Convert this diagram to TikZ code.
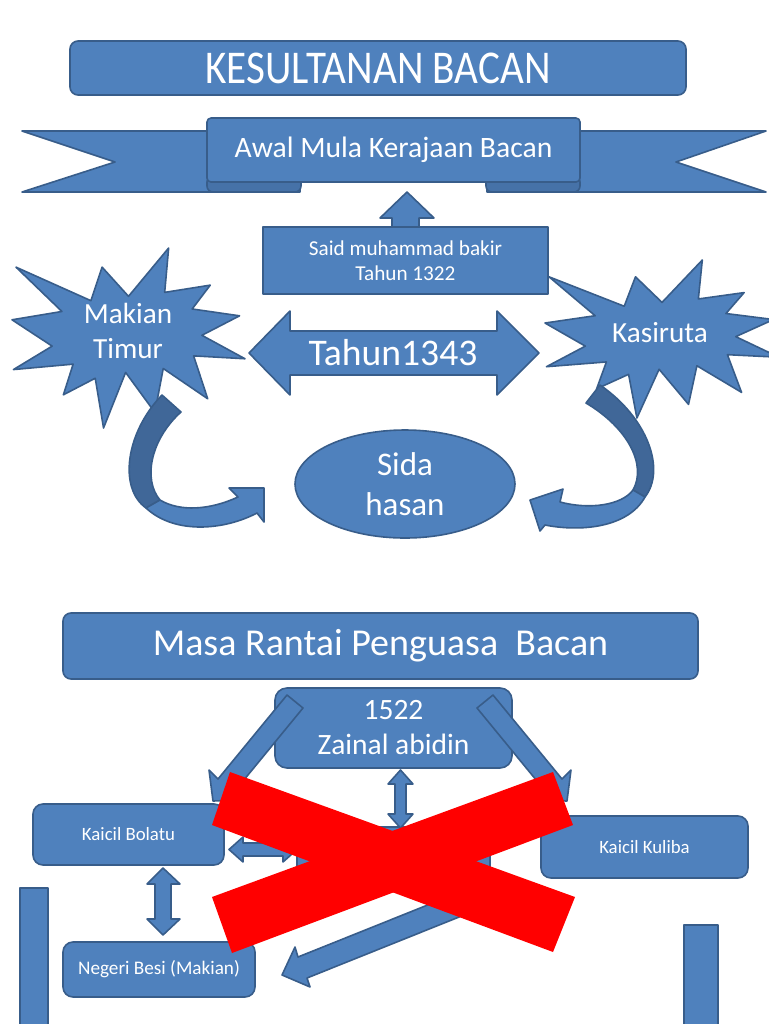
\documentclass[tikz,border=0pt]{standalone}
\usepackage{fontspec}
\setmainfont{Carlito}
\usetikzlibrary{shapes.geometric}
\definecolor{bacanblue}{RGB}{79,129,189}
\definecolor{bacanline}{RGB}{56,93,138}
\definecolor{bacandark}{RGB}{64,103,152}
\definecolor{bacanfold}{RGB}{70,114,168}
\tikzset{
  shp/.style={fill=bacanblue, draw=bacanline, line width=0.8pt, line join=round},
  box/.style={shp, text=white, align=center, inner sep=0pt},
  lbl/.style={text=white, align=center, inner sep=0pt},
}
\newcommand{\fs}[2]{\fontsize{#1}{#2}\selectfont}
% explosion shape, drawn in a 100 x 100 frame
\newcommand{\burst}[1]{\draw[shp,#1] (50,26.85) -- (67.23,0) -- (65.53,24.65) -- (85.09,20.63)
  -- (77.32,33.87) -- (97.67,37.67) -- (81.51,48.50) -- (100,61.53) -- (77.95,59.92)
  -- (84.00,83.77) -- (64.91,66.93) -- (61.33,91.37) -- (48.76,69.14) -- (39.28,100)
  -- (35.72,72.35) -- (22.05,81.56) -- (26.24,64.52) -- (0.63,67.53) -- (17.23,54.51)
  -- (0,39.88) -- (21.42,35.26) -- (1.71,10.63) -- (33.85,29.26) -- (38.67,10.63) -- cycle;}
\begin{document}
\begin{tikzpicture}[x=0.5pt,y=-0.5pt]
\useasboundingbox (0,0) rectangle (768,1024);
\node[box, rounded corners=4pt, minimum width=308pt, minimum height=27pt, font=\fs{23.5}{26}] (title) at (378,68) {\scalebox{0.875}[1]{KESULTANAN BACAN}};
% ribbon
\draw[shp] (215,131) -- (22,131) -- (115,162) -- (22,192) -- (300,192) -- (300,182) -- (215,182) -- cycle;
\draw[shp] (572,131) -- (766,131) -- (676,162) -- (766,192) -- (487,192) -- (487,182) -- (572,182) -- cycle;
\draw[shp, fill=bacanfold, rounded corners=3pt] (207,176) rectangle (301,192);
\draw[shp, fill=bacanfold, rounded corners=3pt] (486,176) rectangle (580,192);
\node[box, rounded corners=2pt, minimum width=186.5pt, minimum height=32pt, font=\fs{14.8}{18}] (awal) at (393.5,150) {Awal Mula Kerajaan Bacan};
% up arrow
\draw[shp] (392,227) -- (392,218) -- (380,218) -- (407,192) -- (434,218) -- (419,218) -- (419,227) -- cycle;
\node[box, minimum width=142.5pt, minimum height=33.5pt, font=\fs{10.6}{12.5}] (said) at (405.5,260.5) {Said muhammad bakir\\Tahun 1322};
% bursts
\burst{shift={(12,248)}, xscale=2.33, yscale=1.80}
\node[lbl, font=\fs{14.6}{17.5}] (makian) at (128,331) {Makian\\Timur};
\burst{shift={(545,260)}, xscale=2.34, yscale=1.58}
\node[lbl, font=\fs{14.6}{17.5}] (kasiruta) at (660,333) {Kasiruta};
% double arrow
\draw[shp] (249,353) -- (290,311) -- (290,331) -- (497,331) -- (497,311) -- (539,353)
  -- (497,395) -- (497,375) -- (290,375) -- (290,395) -- cycle;
\node[lbl, font=\fs{18.8}{22}] (tahun) at (393,353) {Tahun1343};
\node[box, ellipse, minimum width=110pt, minimum height=54pt, font=\fs{16.5}{20}] (sida) at (405,484) {Sida\\hasan};
% curved arrows
\draw[shp, fill=bacandark] (162,395) .. controls (126,432) and (118,488) .. (146,508) -- (160,500)
  .. controls (143,480) and (150,440) .. (181,412) -- cycle;
\draw[shp] (146,508) .. controls (175,535) and (225,530) .. (257,513) -- (264,522) -- (264,488)
  -- (229,488) -- (238,497) .. controls (210,510) and (180,512) .. (160,500) -- cycle;
\draw[shp, fill=bacandark] (600,385) .. controls (648,418) and (666,470) .. (645,497) -- (633,490)
  .. controls (647,465) and (628,428) .. (586,403) -- cycle;
\draw[shp] (645,497) .. controls (628,528) and (580,532) .. (545,525) -- (540,531) -- (530,500)
  -- (563,489) -- (560,502) .. controls (590,510) and (622,505) .. (633,490) -- cycle;
% second part
\node[box, rounded corners=4pt, minimum width=317.5pt, minimum height=33pt, font=\fs{19}{22}] (masa) at (380.5,646) {Masa Rantai Penguasa\ \ Bacan};
\node[box, rounded corners=6pt, minimum width=118.5pt, minimum height=40pt, font=\fs{14.75}{17.5}] (zainal) at (393.5,728) {1522\\Zainal abidin};
\node[box, rounded corners=5pt, minimum width=95.5pt, minimum height=30.5pt, font=\fs{9.4}{11}] (bolatu) at (128.5,834.5) {Kaicil Bolatu};
\node[box, rounded corners=5pt, minimum width=103.5pt, minimum height=31pt, font=\fs{9.4}{11}] (kuliba) at (644.5,847) {Kaicil Kuliba};
\node[box, rounded corners=5pt, minimum width=96pt, minimum height=27.5pt, font=\fs{9.6}{11}] (negeri) at (159,969.5) {Negeri Besi (Makian)};
\node[box, rounded corners=5pt, minimum width=96.5pt, minimum height=25.5pt] (pusat) at (393.5,852.5) {};
\draw[shp] (400.5,770) -- (413,784) -- (406,784) -- (406,814) -- (413,814) -- (400.5,828)
  -- (388,814) -- (395,814) -- (395,784) -- (388,784) -- cycle;
\draw[shp] (163,868) -- (180,884) -- (171,884) -- (171,919) -- (180,919) -- (163,935)
  -- (147,919) -- (155,919) -- (155,884) -- (147,884) -- cycle;
\draw[shp] (229,849.5) -- (243,837) -- (243,843) -- (283,843) -- (283,837) -- (297,849.5)
  -- (283,862) -- (283,856) -- (243,856) -- (243,862) -- cycle;
\draw[shp] (287,695) -- (303,708) -- (234,792) -- (243,800) -- (213,801) -- (209,770) -- (218,779) -- cycle;
\draw[shp] (493,695) -- (477,708) -- (546,792) -- (537,800) -- (567,801) -- (571,770) -- (562,779) -- cycle;
\draw[shp] (480,884) -- (298,957) -- (295,947) -- (282,975) -- (310,987) -- (307,978) -- (489,905) -- cycle;
\draw[shp] (20,888) rectangle (48,1030);
\draw[shp] (684,925) rectangle (718,1030);
% red cross
\fill[red] (230,772) -- (575,897) -- (553,952) -- (212,825) -- cycle;
\fill[red] (553,772) -- (573,825) -- (232,953) -- (212,897) -- cycle;
\end{tikzpicture}
\end{document}
